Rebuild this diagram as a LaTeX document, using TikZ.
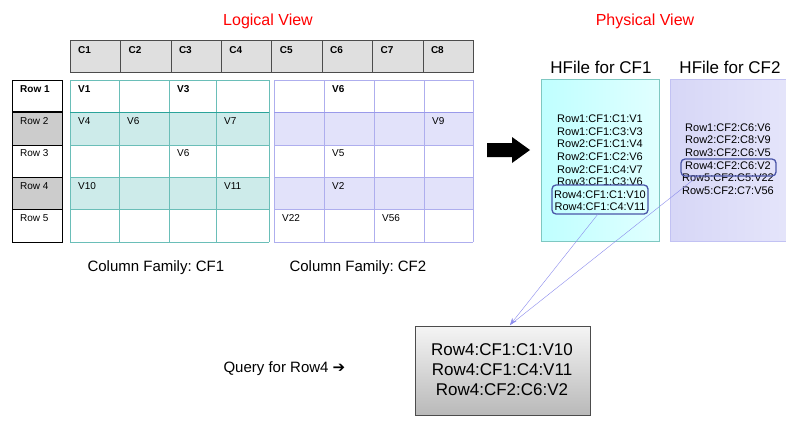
\documentclass[tikz,border=0pt]{standalone}
\usepackage{fontspec}
\setmainfont{Liberation Sans}
\newfontfamily\djv{DejaVu Sans}
\usetikzlibrary{arrows.meta}
\definecolor{tealL}{HTML}{CDEBEA}
\definecolor{tealD}{HTML}{2AA39A}
\definecolor{lavL}{HTML}{E2E2FA}
\definecolor{lavD}{HTML}{9A9AEA}
\definecolor{hb}{HTML}{4A55A8}
\begin{document}
\begin{tikzpicture}[x=1pt,y=-1pt,
  cell/.style={font=\fontsize{10}{12}\selectfont,anchor=north west,inner sep=0pt},
  hf/.style={font=\fontsize{11}{12.6}\selectfont,align=center,inner sep=0pt},
  ttl/.style={font=\fontsize{16}{18}\selectfont,text=red},
  lbl/.style={font=\fontsize{15}{17}\selectfont}]
\useasboundingbox (0,0) rectangle (786,431);
% header
\foreach \i/\c in {0/C1,1/C2,2/C3,3/C4,4/C5,5/C6,6/C7,7/C8}{
  \draw[fill=gray!25,draw=gray!60!black] (70+\i*50.4,40) rectangle (70+\i*50.4+50.4,72);
  \node[cell,font=\fontsize{10}{12}\selectfont\bfseries] at (78+\i*50.4,46) {\c};}
% row labels
\foreach \r/\f in {0/white,1/gray!40,2/white,3/gray!40,4/white}{
  \draw[fill=\f,draw=black] (12,80+\r*32.4) rectangle (62,112.4+\r*32.4);}
\foreach \r in {1,...,5}{
  \node[cell] (r\r) at (20,85+\r*32.4-32.4) {\ifnum\r=1 \bfseries\fi Row \r};}
\draw[line width=1.5pt] (12,112) -- (62,112);
% grids
\fill[tealL] (70,112.4) rectangle (269,144.8);
\fill[tealL] (70,177.2) rectangle (269,209.6);
\fill[lavL] (274,112.4) rectangle (473,144.8);
\fill[lavL] (274,177.2) rectangle (473,209.6);
\foreach \x in {70,119,169,216,269}{\draw[tealD!70] (\x,80) -- (\x,242);}
\foreach \y in {80,144.8,177.2,209.6,242}{\draw[tealD!70] (70,\y) -- (269,\y);}
\draw[tealD,line width=1.5pt] (70,112.4) -- (269,112.4);
\foreach \x in {274,324,374,424,473}{\draw[lavD!80] (\x,80) -- (\x,242);}
\foreach \y in {80,144.8,177.2,209.6,242}{\draw[lavD!80] (274,\y) -- (473,\y);}
\draw[lavD,line width=1.5pt] (274,112.4) -- (473,112.4);
% values
\node[cell,font=\fontsize{10}{12}\selectfont\bfseries] at (78,85) {V1};
\node[cell,font=\fontsize{10}{12}\selectfont\bfseries] at (177,85) {V3};
\node[cell,font=\fontsize{10}{12}\selectfont\bfseries] at (332,85) {V6};
\node[cell] at (78,117) {V4};
\node[cell] at (127,117) {V6};
\node[cell] at (224,117) {V7};
\node[cell] at (432,117) {V9};
\node[cell] at (177,149) {V6};
\node[cell] at (332,149) {V5};
\node[cell] at (78,182) {V10};
\node[cell] at (224,182) {V11};
\node[cell] at (332,182) {V2};
\node[cell] at (282,214) {V22};
\node[cell] at (382,214) {V56};
\node[lbl,anchor=west] (cf1) at (84,268) {Column Family:\ CF1};
\node[lbl,anchor=west] (cf2) at (286,268) {Column Family:\ CF2};
\node[ttl] (lv) at (268,21) {Logical View};
\node[ttl] (pv) at (645,21) {Physical View};
% arrow
\fill (487,143) -- (512,143) -- (512,137) -- (530,150) -- (512,163) -- (512,157) -- (487,157) -- cycle;
% HFiles
\node[lbl,font=\fontsize{17}{19}\selectfont] (h1t) at (601,67) {HFile for CF1};
\node[lbl,font=\fontsize{17}{19}\selectfont] (h2t) at (730,67) {HFile for CF2};
\shade[left color=cyan!25,right color=cyan!12] (541,79) rectangle (659,241);
\draw[tealD!60] (541,79) rectangle (659,241);
\shade[left color=lavD!40,right color=lavL!90] (670,79) rectangle (790,241);
\draw[lavD!60] (670,79) rectangle (790,241);
\node[hf] (h1) at (600,163) {Row1:CF1:C1:V1\\Row1:CF1:C3:V3\\Row2:CF1:C1:V4\\Row2:CF1:C2:V6\\Row2:CF1:C4:V7\\Row3:CF1:C3:V6\\Row4:CF1:C1:V10\\Row4:CF1:C4:V11};
\node[hf] (h2) at (728,159) {Row1:CF2:C6:V6\\Row2:CF2:C8:V9\\Row3:CF2:C6:V5\\Row4:CF2:C6:V2\\Row5:CF2:C5:V22\\Row5:CF2:C7:V56};
\draw[hb,line width=1.3pt,rounded corners=4pt] (552,185) rectangle (648,214);
\draw[hb,line width=1.3pt,rounded corners=4pt] (681,159) rectangle (776,176);
\coordinate (s1) at (598,214);
\coordinate (s2) at (698,176);
% query
\shade[top color=gray!8,bottom color=gray!55] (415,326) rectangle (590,415);
\draw[black!70] (415,326) rectangle (590,415);
\node (q) [align=center,font=\fontsize{17}{20}\selectfont,inner sep=0pt] at (502,370) {Row4:CF1:C1:V10\\Row4:CF1:C4:V11\\Row4:CF2:C6:V2};
\coordinate (qt) at (510,325);
\draw[lavD!90!blue,-{Stealth[length=7pt]}] (s1) -- (qt);
\draw[lavD!90!blue] (s2) -- (qt);
\node[lbl,anchor=west] (ql) at (220,369) {Query for Row4 {\djv ➔}};
\end{tikzpicture}
\end{document}
